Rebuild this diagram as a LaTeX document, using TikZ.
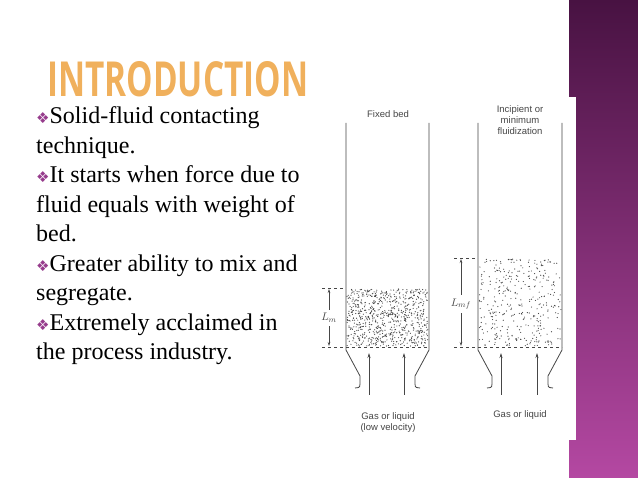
\documentclass[tikz,border=0pt]{standalone}
\usepackage{fontspec}
\setmainfont{Liberation Serif}
\newfontfamily\dv{DejaVu Sans}
\newfontfamily\titlefont{Open Sans}
\newfontfamily\lab{Liberation Sans}
\usetikzlibrary{arrows.meta}
\definecolor{bul}{RGB}{150,60,140}
\definecolor{ttl}{RGB}{240,176,92}
\definecolor{ink}{RGB}{70,70,70}
\begin{document}
\begin{tikzpicture}[x=1pt,y=-1pt,
  txt/.style={anchor=base west,inner sep=0pt,font=\fontsize{24}{28}\selectfont},
  wall/.style={draw=ink,line width=0.8pt},
  dim/.style={draw=ink,line width=0.5pt,-{Stealth[length=4pt,width=2.5pt]}},
  flow/.style={draw=ink,line width=0.7pt,-{Stealth[length=5pt,width=3pt]}},
  lbl/.style={inner sep=0pt,text=ink,font=\lab\fontsize{9.5}{11}\selectfont,align=center}]
\useasboundingbox (0,0) rectangle (638,478);
\shade[top color={rgb,255:red,72;green,18;blue,66},bottom color={rgb,255:red,180;green,72;blue,162}] (569,0) rectangle (638,478);
\fill[white] (310,97) rectangle (576,440);
% title
\node[anchor=base west,inner sep=0pt,text=ttl] (title) at (47,97) {\resizebox{261pt}{35pt}{\titlefont\bfseries INTRODUCTION}};
% bullets
\newcommand{\bsym}{{\color{bul}\dv\fontsize{15}{16}\selectfont ❖}}
\node[txt] (l1) at (36,124) {\bsym Solid-fluid contacting};
\node[txt] (l2) at (36,153.5) {technique.};
\node[txt] (l3) at (36,183) {\bsym It starts when force due to};
\node[txt] (l4) at (36,212.5) {fluid equals with weight of};
\node[txt] (l5) at (36,242) {bed.};
\node[txt] (l6) at (36,271.5) {\bsym Greater ability to mix and};
\node[txt] (l7) at (36,301) {segregate.};
\node[txt] (l8) at (36,330.5) {\bsym Extremely acclaimed in};
\node[txt] (l9) at (36,360) {the process industry.};
% columns
\foreach \L/\R/\T/\D in {346/429/288/329, 478/562/258/461}{
  \pgfmathsetmacro{\Li}{\L+14}\pgfmathsetmacro{\Ri}{\R-14}
  \draw[wall] (\L,123) -- (\L,350) -- (\Li,376) -- (\Li,384) .. controls (\Li,388) and (\Li-2,388) .. (\Li-5,388);
  \draw[wall] (\R,123) -- (\R,350) -- (\Ri,376) -- (\Ri,384) .. controls (\Ri,388) and (\Ri+2,388) .. (\Ri+5,388);
  \draw[ink,line width=0.5pt,dashed] (\D-7,347) -- (\R,347);
  \draw[ink,line width=0.5pt,dashed] (\D-7,\T) -- (\L,\T);
  \draw[dim] (\D,{(\T+347)/2}) -- (\D,\T+1);
  \draw[dim] (\D,{(\T+347)/2}) -- (\D,346);
  \draw[flow] (\L+23,395) -- (\L+23,353);
  \draw[flow] (\R-25,395) -- (\R-25,353);
}
\fill[white] (321,310) rectangle (337,326);
\node[inner sep=0pt,text=ink,font=\fontsize{11}{11}\selectfont] (lm) at (329,318) {$L_m$};
\fill[white] (448,295) rectangle (474,313);
\node[inner sep=0pt,text=ink,font=\fontsize{11}{11}\selectfont] (lmf) at (461,304) {$L_{mf}$};
% particles
\pgfmathsetseed{7}
\foreach \i in {1,...,750}{\fill[ink] ({347+81*rnd},{289+57*rnd}) circle (0.6pt);}
\foreach \i in {1,...,360}{\fill[ink] ({479+82*rnd},{259+87*rnd}) circle (0.6pt);}
% labels
\node[lbl] (fb) at (388,114) {Fixed bed};
\node[lbl] (inc) at (520,120) {Incipient or\\minimum\\fluidization};
\node[lbl] (g1) at (388,423) {Gas or liquid\\(low velocity)};
\node[lbl] (g2) at (520,415) {Gas or liquid};
\end{tikzpicture}
\end{document}
